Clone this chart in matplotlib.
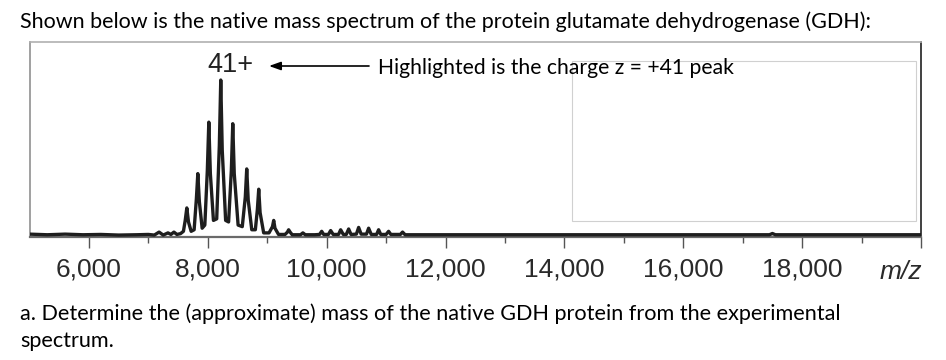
import matplotlib
matplotlib.use("Agg")
import matplotlib.pyplot as plt
from matplotlib.patches import Rectangle
from matplotlib.ticker import FixedLocator, FuncFormatter

# ---- data ----
mz = [5000, 5300, 5600, 5900, 6200, 6500, 6800, 7000, 7100, 7180, 7250, 7330, 7380, 7430, 7480, 7540,
      7590, 7620, 7647, 7675, 7720,
      7770, 7808, 7832, 7858, 7905,
      7950, 7992, 8017, 8043, 8095,
      8150, 8194, 8218, 8243, 8300,
      8350, 8396, 8420, 8445, 8510,
      8580, 8631, 8655, 8680, 8740,
      8800, 8834, 8857, 8880, 8940,
      9030, 9088, 9109, 9130, 9190,
      9300, 9340, 9360, 9385, 9420, 9560, 9600, 9640, 9800,
      9880, 9916, 9950, 10030, 10067, 10110, 10200, 10235, 10280, 10330, 10370, 10410,
      10500, 10538, 10580, 10670, 10706, 10750, 10840, 10874, 10910, 11000, 11042, 11080,
      11240, 11277, 11320,
      17450, 17500, 17550, 20000]
intensity = [1.2, 0.8, 1.2, 0.8, 1.0, 0.6, 0.8, 1.0, 0.6, 2.5, 0.6, 2.0, 1.0, 2.5, 1.0, 1.5,
             3, 10, 18, 9, 3,
             4, 24, 40, 22, 5,
             7, 42, 73, 40, 10,
             11, 58, 100, 55, 10,
             9, 42, 72, 40, 7,
             6, 25, 43, 23, 4,
             4, 17, 30, 15, 2,
             2, 6, 10, 5, 1,
             1, 2.5, 4, 2.5, 0.8, 0.8, 2, 0.8, 0.8,
             1, 3, 1, 1, 3.5, 1, 1, 4, 1, 1, 4.5, 1,
             1.2, 5.5, 1.2, 1.2, 5, 1, 1, 4, 1, 1, 3, 1,
             1, 2.5, 0.8,
             0.8, 1.6, 0.8, 0.8]

major_ticks = [6000, 8000, 10000, 12000, 14000, 16000, 18000, 20000]
minor_ticks = [7000, 9000, 11000, 13000, 15000, 17000, 19000]
tick_labels = ["6,000", "8,000", "10,000", "12,000", "14,000", "16,000", "18,000", ""]

peak_label = "41+"
title_text = "Shown below is the native mass spectrum of the protein glutamate dehydrogenase (GDH):"
note_text = "Highlighted is the charge z = +41 peak"
question_l1 = "a. Determine the (approximate) mass of the native GDH protein from the experimental"
question_l2 = "spectrum."

W, H = 946, 360
fig = plt.figure(figsize=(W / 100, H / 100), dpi=100)

def fx(px):
    return px / W

def fy(py):
    return 1 - py / H

ax = fig.add_axes([fx(29.5), fy(237), fx(921) - fx(29.5), fy(42) - fy(237)])
ax.plot(mz, intensity, color="#1e1e1e", lw=2.4, solid_joinstyle="round", zorder=3)
ax.set_xlim(5000, 20000)
ax.set_ylim(-0.64, 124.4)

ax.xaxis.set_major_locator(FixedLocator(major_ticks))
ax.xaxis.set_minor_locator(FixedLocator(minor_ticks))
ax.xaxis.set_major_formatter(FuncFormatter(lambda v, p: tick_labels[major_ticks.index(int(round(v)))] if int(round(v)) in major_ticks else ""))
ax.set_yticks([])
ax.tick_params(axis="x", which="major", direction="out", length=8, width=1.0, color="#555555",
               labelsize=19, labelcolor="#2a2a2a", pad=7)
ax.tick_params(axis="x", which="minor", direction="out", length=4.5, width=1.0, color="#555555")
for lab in ax.get_xticklabels():
    lab.set_fontfamily("Liberation Sans")

ax.spines["top"].set_color("#b0b0b0")
ax.spines["left"].set_color("#909090")
ax.spines["bottom"].set_color("#6a6a6a")
ax.spines["right"].set_color("#202020")
for s in ax.spines.values():
    s.set_linewidth(1.2)
ax.spines["bottom"].set_linewidth(1.6)

# pasted white box in the upper right
fig.patches.append(Rectangle((fx(572), fy(221)), fx(916) - fx(572), fy(61) - fy(221),
                             transform=fig.transFigure, facecolor="white",
                             edgecolor="#d0d0d0", lw=0.8, zorder=5))

# annotations
fig.text(fx(230), fy(65), peak_label, fontsize=19.5, family="Liberation Sans", color="#222222",
         ha="center", va="center")
ax.annotate("", xy=(fx(269), fy(66)), xycoords="figure fraction",
            xytext=(fx(369), fy(66)), textcoords="figure fraction",
            arrowprops=dict(arrowstyle="-|>,head_length=0.7,head_width=0.25", color="black", lw=1.2,
                            shrinkA=0, shrinkB=0))

text_font = "Lato"
renderer = fig.canvas.get_renderer()

def fit_text(x0, x1, ybase, s, size):
    t = fig.text(fx(x0), fy(ybase), s, fontsize=size, family=text_font, color="black",
                 ha="left", va="baseline", zorder=10)
    w = t.get_window_extent(renderer).width
    t.set_fontsize(size * (x1 - x0) / w)
    return t

fit_text(20, 870, 28, title_text, 14)
fit_text(378, 735, 74, note_text, 14)
t1 = fit_text(20, 840, 320, question_l1, 14)
fig.text(fx(20), fy(347), question_l2, fontsize=t1.get_fontsize(), family=text_font,
         color="black", ha="left", va="baseline")

fig.text(fx(901), fy(272), "m/z", fontsize=19, style="italic", family="Liberation Sans",
         color="#2a2a2a", ha="center", va="center")

fig.savefig("out.png", dpi=100)
